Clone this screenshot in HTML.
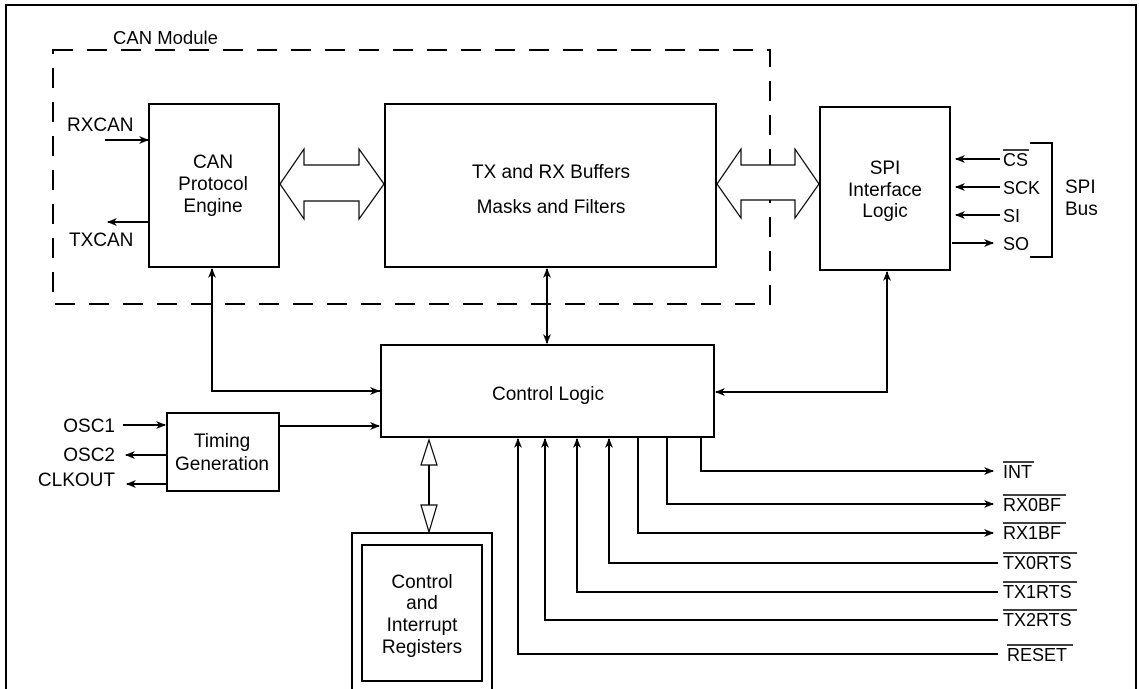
<!DOCTYPE html>
<html><head><meta charset="utf-8"><style>
html,body{margin:0;padding:0;background:#fff;}
svg{display:block;}
text{font-family:"Liberation Sans",sans-serif;font-size:19px;fill:#000;}
.r{font-size:18px;}
</style></head><body>
<svg width="1139" height="689" viewBox="0 0 1139 689" xmlns="http://www.w3.org/2000/svg">
<defs>
<marker id="a" markerWidth="10" markerHeight="8" refX="9" refY="4" orient="auto" markerUnits="userSpaceOnUse">
<path d="M0,0 L10,4 L0,8 L3,4 Z" fill="#000"/></marker>
</defs>
<g fill="none" stroke="#000" stroke-width="2">
<rect x="6" y="5" width="1130" height="700"/>
<rect x="53" y="50" width="717" height="254" stroke-dasharray="20,14"/>
<rect x="149" y="104" width="130" height="163"/>
<rect x="385" y="104" width="331" height="163"/>
<rect x="820" y="107" width="130" height="163"/>
<rect x="381" y="345" width="333" height="92"/>
<rect x="167" y="413" width="112" height="78"/>
<rect x="352" y="533" width="140" height="170"/>
<rect x="362" y="545" width="120" height="136"/>
<path d="M1030,143 H1052 V257 H1030"/>
</g>
<g fill="#fff" stroke="#000" stroke-width="1.2">
<path d="M280,184 L304,149 V165 H359 V149 L384,184 L359,219 V201 H304 V219 Z"/>
<path d="M717,184 L741,149 V165 H795 V149 L819,184 L795,218 V200 H741 V218 Z"/>
<path d="M429,440 L437,465 H421 Z"/>
<path d="M429,532 L437,505 H421 Z"/>
</g>
<g stroke="#000" stroke-width="2" fill="none">
<line x1="429" y1="465" x2="429" y2="505"/>
<line x1="105" y1="140" x2="148" y2="140" marker-end="url(#a)"/>
<line x1="149" y1="222" x2="108" y2="222" marker-end="url(#a)"/>
<path d="M380,391 H212 V269" marker-end="url(#a)"/>
<path d="M212,391 H379" marker-end="url(#a)"/>
<line x1="547" y1="300" x2="547" y2="269" marker-end="url(#a)"/>
<line x1="547" y1="300" x2="547" y2="343" marker-end="url(#a)"/>
<path d="M887,340 V272" marker-end="url(#a)"/>
<path d="M887,330 V392 H716" marker-end="url(#a)"/>
<line x1="279" y1="426" x2="379" y2="426" marker-end="url(#a)"/>
<line x1="123" y1="425" x2="165" y2="425" marker-end="url(#a)"/>
<line x1="167" y1="455" x2="126" y2="455" marker-end="url(#a)"/>
<line x1="167" y1="484" x2="127" y2="484" marker-end="url(#a)"/>
<line x1="1000" y1="159" x2="956" y2="159" marker-end="url(#a)"/>
<line x1="1000" y1="187" x2="956" y2="187" marker-end="url(#a)"/>
<line x1="1000" y1="215" x2="956" y2="215" marker-end="url(#a)"/>
<line x1="952" y1="243" x2="993" y2="243" marker-end="url(#a)"/>
<path d="M701,437 V471 H993" marker-end="url(#a)"/>
<path d="M667,437 V504 H993" marker-end="url(#a)"/>
<path d="M638,437 V533 H993" marker-end="url(#a)"/>
<path d="M998,563 H609 V439" marker-end="url(#a)"/>
<path d="M998,592 H577 V439" marker-end="url(#a)"/>
<path d="M998,620 H545 V439" marker-end="url(#a)"/>
<path d="M998,654 H518 V439" marker-end="url(#a)"/>
</g>
<text x="113" y="44" style="font-size:18.5px">CAN Module</text>
<text x="67" y="131">RXCAN</text>
<text x="69" y="246">TXCAN</text>
<g text-anchor="middle">
<text x="213" y="168">CAN</text>
<text x="213" y="190">Protocol</text>
<text x="213" y="212">Engine</text>
<text x="551" y="178">TX and RX Buffers</text>
<text x="551" y="213">Masks and Filters</text>
<text x="885" y="174">SPI</text>
<text x="885" y="196">Interface</text>
<text x="885" y="217">Logic</text>
<text x="548" y="400">Control Logic</text>
<text x="222" y="447">Timing</text>
<text x="222" y="470">Generation</text>
<text x="422" y="588">Control</text>
<text x="422" y="609">and</text>
<text x="422" y="631">Interrupt</text>
<text x="422" y="653">Registers</text>
</g>
<g text-anchor="end">
<text x="115" y="432">OSC1</text>
<text x="115" y="461">OSC2</text>
<text x="115" y="486">CLKOUT</text>
</g>
<g class="r">
<text class="r" x="1003" y="166">CS</text>
<text class="r" x="1003" y="194">SCK</text>
<text class="r" x="1003" y="222">SI</text>
<text class="r" x="1003" y="250">SO</text>
<text x="1065" y="193">SPI</text>
<text x="1065" y="215">Bus</text>
<text class="r" x="1003" y="478">INT</text>
<text class="r" x="1003" y="511">RX0BF</text>
<text class="r" x="1003" y="539">RX1BF</text>
<text class="r" x="1003" y="569">TX0RTS</text>
<text class="r" x="1003" y="598">TX1RTS</text>
<text class="r" x="1003" y="626">TX2RTS</text>
<text class="r" x="1007" y="661">RESET</text>
</g>
<g stroke="#000" stroke-width="1.5">
<line x1="1003" y1="150" x2="1029" y2="150"/>
<line x1="1003" y1="462" x2="1034" y2="462"/>
<line x1="1003" y1="495" x2="1066" y2="495"/>
<line x1="1003" y1="523" x2="1066" y2="523"/>
<line x1="1003" y1="553" x2="1077" y2="553"/>
<line x1="1003" y1="582" x2="1077" y2="582"/>
<line x1="1003" y1="610" x2="1077" y2="610"/>
<line x1="1007" y1="645" x2="1073" y2="645"/>
</g>
</svg>
</body></html>
